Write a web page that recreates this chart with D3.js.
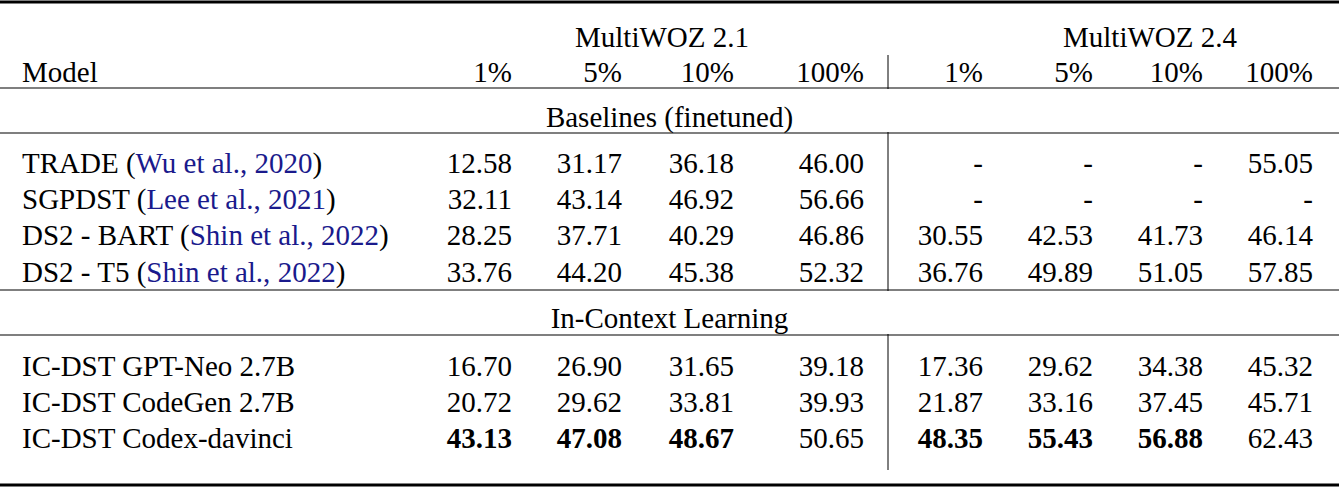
<!DOCTYPE html>
<html><head><meta charset="utf-8">
<script src="https://cdn.jsdelivr.net/npm/d3@7"></script>
<style>body{margin:0;background:#fff}svg{display:block}</style>
</head><body><div id="tbl"></div>
<script>
// table content
const groups = ["MultiWOZ 2.1", "MultiWOZ 2.4"];
const colLabels = ["1%", "5%", "10%", "100%", "1%", "5%", "10%", "100%"];
const sections = ["Baselines (finetuned)", "In-Context Learning"];
const baseModels = ["TRADE", "SGPDST", "DS2 - BART", "DS2 - T5"];
const baseCites = ["Wu et al., 2020", "Lee et al., 2021", "Shin et al., 2022", "Shin et al., 2022"];
const baseVals = [
  ["12.58", "31.17", "36.18", "46.00", "-", "-", "-", "55.05"],
  ["32.11", "43.14", "46.92", "56.66", "-", "-", "-", "-"],
  ["28.25", "37.71", "40.29", "46.86", "30.55", "42.53", "41.73", "46.14"],
  ["33.76", "44.20", "45.38", "52.32", "36.76", "49.89", "51.05", "57.85"]
];
const iclModels = ["IC-DST GPT-Neo 2.7B", "IC-DST CodeGen 2.7B", "IC-DST Codex-davinci"];
const iclVals = [
  ["16.70", "26.90", "31.65", "39.18", "17.36", "29.62", "34.38", "45.32"],
  ["20.72", "29.62", "33.81", "39.93", "21.87", "33.16", "37.45", "45.71"],
  ["43.13", "47.08", "48.67", "50.65", "48.35", "55.43", "56.88", "62.43"]
];
const boldCells = [[2, 0], [2, 1], [2, 2], [2, 4], [2, 5], [2, 6]]; // rows of iclVals

const W = 1339, H = 488;
const svg = d3.select("#tbl").append("svg").attr("width", W).attr("height", H)
  .style("font-family", "'Liberation Serif', 'DejaVu Serif', serif").style("font-size", "29px");

// column right edges
const colX = [512, 622, 734, 864, 983, 1093, 1203, 1313];
const divider = 888;

function text(t, xx, yy, anchor, weight) {
  return svg.append("text").attr("x", xx).attr("y", yy).attr("dy", "0.35em")
    .attr("text-anchor", anchor || "start").attr("font-weight", weight || "normal").text(t);
}
function rule(yy, w) {
  svg.append("line").attr("x1", 0).attr("x2", W).attr("y1", yy).attr("y2", yy)
    .attr("stroke", "#000").attr("stroke-width", w);
}

// header
text(groups[0], 662, 37, "middle");
text(groups[1], 1150, 37, "middle");
text("Model", 22, 72);
colLabels.forEach((c, i) => text(c, colX[i], 72, "end"));

rule(2, 3); rule(88, 1.2);
text(sections[0], W / 2, 117, "middle");
rule(133, 1.2);

const baseY = [163, 199, 235, 272];
baseModels.forEach((m, r) => {
  const t = text(m + " (", 22, baseY[r]);
  t.append("tspan").attr("fill", "#1a1a8c").text(baseCites[r].split(", ")[0] + ", ");
  t.append("tspan").attr("fill", "#1a1a8c").text(baseCites[r].split(", ")[1]);
  t.append("tspan").text(")");
  baseVals[r].forEach((v, c) => text(v, colX[c], baseY[r], "end"));
});

rule(290, 1.2);
text(sections[1], W / 2, 318, "middle");
rule(335, 1.2);

const iclY = [366, 402, 438];
iclModels.forEach((m, r) => {
  text(m, 22, iclY[r]);
  iclVals[r].forEach((v, c) => {
    const b = boldCells.some(d => d[0] === r && d[1] === c);
    text(v, colX[c], iclY[r], "end", b ? "bold" : "normal");
  });
});
rule(485, 3);

// vertical divider
svg.append("line").attr("x1", divider).attr("x2", divider).attr("y1", 55).attr("y2", 470)
  .attr("stroke", "#000").attr("stroke-width", 1);
// white gaps where section headers span the whole width
[[88, 133], [290, 335]].forEach(([a, b]) => {
  svg.append("rect").attr("x", divider - 2).attr("y", a + 1).attr("width", 4).attr("height", b - a - 2).attr("fill", "#fff");
});
</script></body></html>
